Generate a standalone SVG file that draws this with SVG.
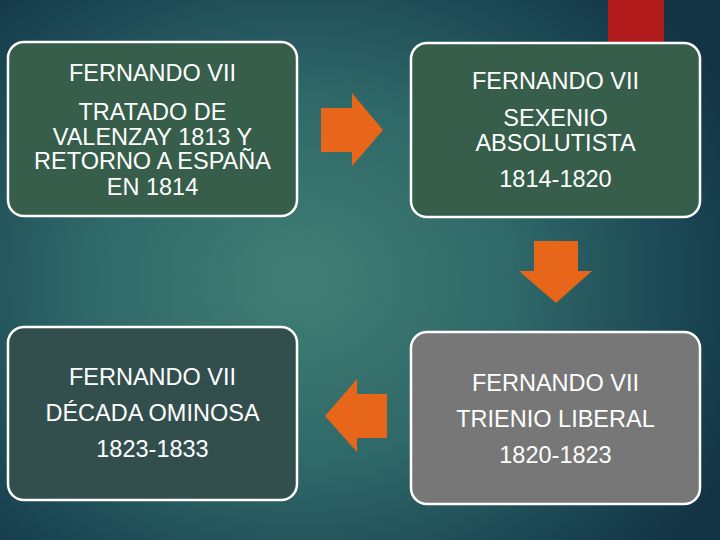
<svg xmlns="http://www.w3.org/2000/svg" width="720" height="540" viewBox="0 0 720 540">
<defs>
<radialGradient id="bg" cx="300" cy="280" r="480" gradientUnits="userSpaceOnUse" gradientTransform="translate(300 280) scale(1 0.85) translate(-300 -280)">
<stop offset="0" stop-color="#417f74"/>
<stop offset="0.45" stop-color="#2f6868"/>
<stop offset="0.8" stop-color="#1b4653"/>
<stop offset="1" stop-color="#133445"/>
</radialGradient>
<style>
.box{stroke:#ffffff;stroke-width:2.5}
.t{font-family:"Liberation Sans",Arial,sans-serif;font-size:23.5px;fill:#ffffff;text-anchor:middle}
.arr{fill:#e8661a}
</style>
</defs>
<rect x="0" y="0" width="720" height="540" fill="url(#bg)"/>
<rect x="608" y="0" width="56" height="44" fill="#b01a1a"/>
<g id="n1">
<rect class="box" x="8" y="42" width="289" height="174" rx="16" fill="#365e4a"/>
<text class="t" x="152.5" y="81">FERNANDO VII</text>
<text class="t" x="152.5" y="120">TRATADO DE</text>
<text class="t" x="152.5" y="144.5">VALENZAY 1813 Y</text>
<text class="t" x="152.5" y="169">RETORNO A ESPAÑA</text>
<text class="t" x="152.5" y="195">EN 1814</text>
</g>
<g id="n2">
<rect class="box" x="411" y="43" width="289" height="174" rx="16" fill="#365e4a"/>
<text class="t" x="555.5" y="89">FERNANDO VII</text>
<text class="t" x="555.5" y="126">SEXENIO</text>
<text class="t" x="555.5" y="151">ABSOLUTISTA</text>
<text class="t" x="555.5" y="187">1814-1820</text>
</g>
<g id="n3">
<rect class="box" x="411" y="332" width="289" height="172" rx="16" fill="#777777"/>
<text class="t" x="555.5" y="391">FERNANDO VII</text>
<text class="t" x="555.5" y="427">TRIENIO LIBERAL</text>
<text class="t" x="555.5" y="463">1820-1823</text>
</g>
<g id="n4">
<rect class="box" x="8" y="327" width="289" height="173" rx="16" fill="#324f4e"/>
<text class="t" x="152.5" y="385">FERNANDO VII</text>
<text class="t" x="152.5" y="421">DÉCADA OMINOSA</text>
<text class="t" x="152.5" y="457">1823-1833</text>
</g>
<g id="connectors">
<polygon class="arr" points="321,108 352,108 352,93 383,130 352,166 352,152 321,152"/>
<polygon class="arr" points="534,241 578,241 578,271 592,271 556,303 519,271 534,271"/>
<polygon class="arr" points="387,394 387,438 357,438 357,452 325,416 357,379 357,394"/>
</g>
</svg>
